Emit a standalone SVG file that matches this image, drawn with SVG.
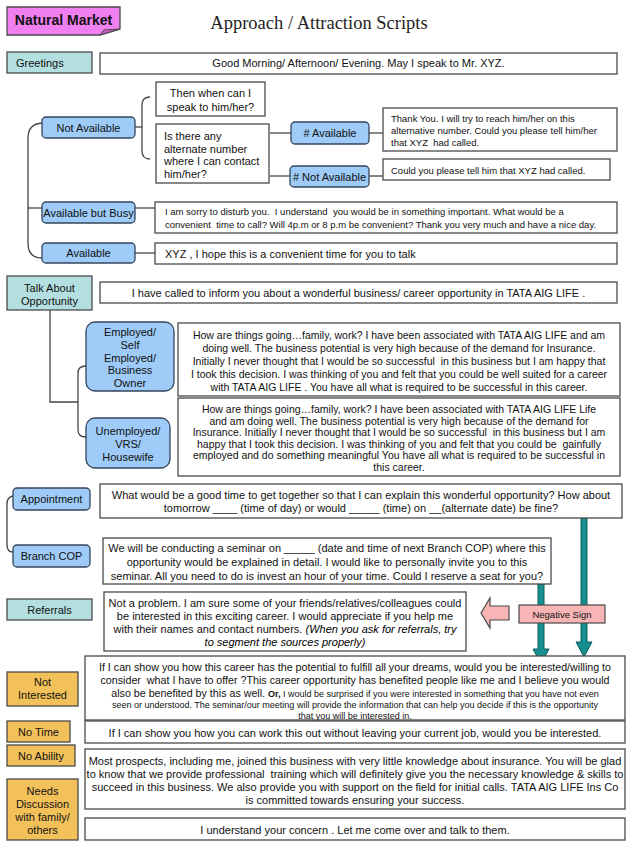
<svg xmlns="http://www.w3.org/2000/svg" width="638" height="851" viewBox="0 0 638 851">
<style>
.box{fill:#fff;stroke:#4a4a4a;stroke-width:1.3}
.teal{fill:#b4dfe0;stroke:#4a4a4a;stroke-width:1.3}
.blue{fill:#9ecbf7;stroke:#34455c;stroke-width:1.3}
.org{fill:#f3c15a;stroke:#4a4a4a;stroke-width:1.3}
.conn{fill:none;stroke:#444;stroke-width:1.3}
.t{font-family:"Liberation Sans",Arial,sans-serif;font-size:10.5px;fill:#111;white-space:pre}
.c{text-anchor:middle}
.s{font-size:9.5px}
.xs{font-size:9px}
.big{font-size:11px}
.m{font-size:10.7px}
.it{font-style:italic;fill:#000}
.ta{fill:#178f8f;stroke:#0d5c5c;stroke-width:1}
</style>
<rect width="638" height="851" fill="#fff"/>

<g id="header">
<path d="M7,7 H120 V29 L100,35 H7 Z" fill="#f080f0" stroke="#4a4a4a" stroke-width="1.3"/>
<path d="M100,35 L104,30 L120,29 Z" fill="#c45ec4" stroke="#4a4a4a" stroke-width="1"/>
<text class="t" x="63.5" y="25" text-anchor="middle" style="font-size:14px;font-weight:bold">Natural Market</text>
<text x="319" y="29" text-anchor="middle" style="font-family:'Liberation Serif','Times New Roman',serif;font-size:18.5px;fill:#222">Approach / Attraction Scripts</text>
</g>

<g id="connectors">
<path class="conn" d="M135,127 H142"/>
<path class="conn" d="M150,97 Q142,97 142,105 V151 Q142,159 150,159"/>
<path class="conn" d="M270,133 H291"/>
<path class="conn" d="M369,133 H383"/>
<path class="conn" d="M270,176 H290"/>
<path class="conn" d="M369,176 H383"/>
<path class="conn" d="M42,123 Q28,124 28,138 V243 Q28,258 42,258"/>
<path class="conn" d="M28,208 H42"/>
<path class="conn" d="M135,208 H155"/>
<path class="conn" d="M135,253 H155"/>
<path class="conn" d="M50,310 V402 H78"/>
<path class="conn" d="M86,366 Q78,366 78,373 V430 Q78,437 86,437"/>
<path class="conn" d="M13,496 Q7,497 7,504 V545 Q7,552 13,552"/>
<path class="ta" d="M581,518 H587 V642 H592 L584,657 L576,642 H581 Z"/>
<path class="ta" d="M538,584 H544 V649 H549 L541,664 L533,649 H538 Z"/>
<path d="M481,613 L490,598 V606 H509 V620 H490 V628 Z" fill="#f8b5b5" stroke="#4a4a4a" stroke-width="1.2"/>
</g>

<g id="greetings">
<rect class="teal" x="7" y="52" width="85" height="21"/>
<text class="t big" x="16" y="67">Greetings</text>
</g>
<g id="greeting-text">
<rect class="box" x="100" y="53" width="517" height="21"/>
<text class="t big c" x="358.5" y="67">Good Morning/ Afternoon/ Evening. May I speak to Mr. XYZ.</text>
</g>

<g id="not-available">
<rect class="blue" x="42" y="117" width="93" height="21" rx="4"/>
<text class="t big c" x="88.5" y="132">Not Available</text>
</g>
<g id="then-when">
<rect class="box" x="156" y="82" width="109" height="34"/>
<text class="t big c" x="210.5" y="97">Then when can I</text>
<text class="t big c" x="210.5" y="110.5">speak to him/her?</text>
</g>
<g id="alternate">
<rect class="box" x="156" y="124" width="113" height="59"/>
<text class="t big" x="164" y="140">Is there any</text>
<text class="t big" x="164" y="152.5">alternate number</text>
<text class="t big" x="164" y="165">where I can contact</text>
<text class="t big" x="164" y="177.5">him/her?</text>
</g>
<g id="hash-available">
<rect class="blue" x="291" y="122" width="78" height="22" rx="4"/>
<text class="t big c" x="330" y="137"># Available</text>
</g>
<g id="hash-not-available">
<rect class="blue" x="290" y="166" width="79" height="21" rx="4"/>
<text class="t big c" x="329.5" y="181"># Not Available</text>
</g>
<g id="thank-you">
<rect class="box" x="383" y="108" width="234" height="43"/>
<text class="t s" x="391" y="121.5">Thank You. I will try to reach him/her on this</text>
<text class="t s" x="391" y="133.5">alternative number. Could you please tell him/her</text>
<text class="t s" x="391" y="145.5">that XYZ  had called.</text>
</g>
<g id="could-you">
<rect class="box" x="383" y="159" width="227" height="21"/>
<text class="t s" x="391" y="173.5">Could you please tell him that XYZ had called.</text>
</g>

<g id="available-busy">
<rect class="blue" x="42" y="202" width="93" height="21" rx="4"/>
<text class="t big c" x="88.5" y="216.5">Available but Busy</text>
</g>
<g id="busy-text">
<rect class="box" x="155" y="202" width="462" height="31"/>
<text class="t s" x="165" y="215">I am sorry to disturb you.  I understand  you would be in something important. What would be a</text>
<text class="t s" x="165" y="227.5">convenient  time to call? Will 4p.m or 8 p.m be convenient? Thank you very much and have a nice day.</text>
</g>
<g id="available">
<rect class="blue" x="42" y="243" width="93" height="20" rx="4"/>
<text class="t big c" x="88.5" y="257">Available</text>
</g>
<g id="available-text">
<rect class="box" x="155" y="243" width="462" height="21"/>
<text class="t big" x="165" y="258">XYZ , I hope this is a convenient time for you to talk</text>
</g>

<g id="talk-about">
<rect class="teal" x="7" y="276" width="85" height="34"/>
<text class="t big c" x="49.5" y="292">Talk About</text>
<text class="t big c" x="49.5" y="304.5">Opportunity</text>
</g>
<g id="talk-text">
<rect class="box" x="100" y="282" width="517" height="21"/>
<text class="t big c" x="358.5" y="297">I have called to inform you about a wonderful business/ career opportunity in TATA AIG LIFE .</text>
</g>

<g id="employed">
<rect class="blue" x="86" y="322" width="88" height="69" rx="9"/>
<text class="t big c" x="130" y="336">Employed/</text>
<text class="t big c" x="130" y="349">Self</text>
<text class="t big c" x="130" y="361.5">Employed/</text>
<text class="t big c" x="130" y="374">Business</text>
<text class="t big c" x="130" y="387">Owner</text>
</g>
<g id="employed-text">
<rect class="box" x="178" y="323" width="442" height="73"/>
<text class="t c" x="399" y="339">How are things going…family, work? I have been associated with TATA AIG LIFE and am</text>
<text class="t c" x="399" y="352">doing well. The business potential is very high because of the demand for Insurance.</text>
<text class="t c" x="399" y="365">Initially I never thought that I would be so successful  in this business but I am happy that</text>
<text class="t c" x="399" y="377.5">I took this decision. I was thinking of you and felt that you could be well suited for a career</text>
<text class="t c" x="399" y="390.5">with TATA AIG LIFE . You have all what is required to be successful in this career.</text>
</g>
<g id="unemployed">
<rect class="blue" x="86" y="418" width="84" height="50" rx="9"/>
<text class="t big c" x="128" y="435">Unemployed/</text>
<text class="t big c" x="128" y="447.5">VRS/</text>
<text class="t big c" x="128" y="460.5">Housewife</text>
</g>
<g id="unemployed-text">
<rect class="box" x="178" y="398" width="442" height="78"/>
<text class="t c" x="399" y="413">How are things going…family, work? I have been associated with TATA AIG LIFE Life</text>
<text class="t c" x="399" y="424.5">and am doing well. The business potential is very high because of the demand for</text>
<text class="t c" x="399" y="436">Insurance. Initially I never thought that I would be so successful  in this business but I am</text>
<text class="t c" x="399" y="447.5">happy that I took this decision. I was thinking of you and felt that you could be  gainfully</text>
<text class="t c" x="399" y="459">employed and do something meaningful You have all what is required to be successful in</text>
<text class="t c" x="399" y="470.5">this career.</text>
</g>

<g id="appointment">
<rect class="blue" x="13" y="488" width="77" height="22" rx="4"/>
<text class="t big c" x="51.5" y="503">Appointment</text>
</g>
<g id="appointment-text">
<rect class="box" x="100" y="484" width="522" height="34"/>
<text class="t big c" x="361" y="499">What would be a good time to get together so that I can explain this wonderful opportunity? How about</text>
<text class="t big c" x="361" y="512">tomorrow ____ (time of day) or would _____ (time) on __(alternate date) be fine?</text>
</g>
<g id="branch-cop">
<rect class="blue" x="13" y="545" width="77" height="22" rx="4"/>
<text class="t big c" x="51.5" y="560">Branch COP</text>
</g>
<g id="branch-text">
<rect class="box" x="103" y="538" width="448" height="46"/>
<text class="t big c" x="327" y="552">We will be conducting a seminar on _____ (date and time of next Branch COP) where this</text>
<text class="t big c" x="327" y="566">opportunity would be explained in detail. I would like to personally invite you to this</text>
<text class="t big c" x="327" y="579.5">seminar. All you need to do is invest an hour of your time. Could I reserve a seat for you?</text>
</g>

<g id="referrals">
<rect class="teal" x="7" y="599" width="85" height="21"/>
<text class="t big c" x="49.5" y="614">Referrals</text>
</g>
<g id="referrals-text">
<rect class="box" x="104" y="592" width="362" height="59"/>
<text class="t big c" x="285" y="607">Not a problem. I am sure some of your friends/relatives/colleagues could</text>
<text class="t big c" x="285" y="620">be interested in this exciting career. I would appreciate if you help me</text>
<text class="t big c" x="285" y="633">with their names and contact numbers. <tspan class="it">(When you ask for referrals, try</tspan></text>
<text class="t big c it" x="285" y="646">to segment the sources properly)</text>
</g>

<g id="negative-sign">
<rect x="519" y="605" width="86" height="18" fill="#f8b5b5" stroke="#4a4a4a" stroke-width="1.2"/>
<text class="t s c" x="562" y="617.5">Negative Sign</text>
</g>

<g id="not-interested">
<rect class="org" x="7" y="672" width="71" height="34"/>
<text class="t big c" x="42.5" y="686">Not</text>
<text class="t big c" x="42.5" y="699">Interested</text>
</g>
<g id="not-interested-text">
<rect class="box" x="85" y="656" width="540" height="64"/>
<text class="t m c" x="355" y="671">If I can show you how this career has the potential to fulfill all your dreams, would you be interested/willing to</text>
<text class="t m c" x="355" y="684">consider  what I have to offer ?This career opportunity has benefited people like me and I believe you would</text>
<text class="t m c" x="355" y="697">also be benefited by this as well. <tspan class="xs" font-weight="bold">Or,</tspan><tspan class="xs"> I would be surprised if you were interested in something that you have not even</tspan></text>
<text class="t xs c" x="355" y="708">seen or understood. The seminar/our meeting will provide the information that can help you decide if this is the opportunity</text>
<text class="t xs c" x="355" y="719">that you will be interested in.</text>
</g>
<g id="no-time">
<rect class="org" x="7" y="721" width="63" height="21"/>
<text class="t big c" x="38.5" y="736">No Time</text>
</g>
<g id="no-time-text">
<rect class="box" x="85" y="721" width="540" height="22"/>
<text class="t big c" x="355" y="737">If I can show you how you can work this out without leaving your current job, would you be interested.</text>
</g>
<g id="no-ability">
<rect class="org" x="7" y="745" width="68" height="21"/>
<text class="t big c" x="41" y="760">No Ability</text>
</g>
<g id="no-ability-text">
<rect class="box" x="85" y="749" width="540" height="60"/>
<text class="t big c" x="355" y="765">Most prospects, including me, joined this business with very little knowledge about insurance. You will be glad</text>
<text class="t big c" x="355" y="778">to know that we provide professional  training which will definitely give you the necessary knowledge &amp; skills to</text>
<text class="t big c" x="355" y="791">succeed in this business. We also provide you with support on the field for initial calls. TATA AIG LIFE Ins Co</text>
<text class="t big c" x="355" y="804">is committed towards ensuring your success.</text>
</g>
<g id="needs-discussion">
<rect class="org" x="7" y="779" width="71" height="61"/>
<text class="t big c" x="42.5" y="795">Needs</text>
<text class="t big c" x="42.5" y="808">Discussion</text>
<text class="t big c" x="42.5" y="821">with family/</text>
<text class="t big c" x="42.5" y="834">others</text>
</g>
<g id="needs-text">
<rect class="box" x="85" y="818" width="540" height="22"/>
<text class="t big c" x="355" y="834">I understand your concern . Let me come over and talk to them.</text>
</g>
</svg>
